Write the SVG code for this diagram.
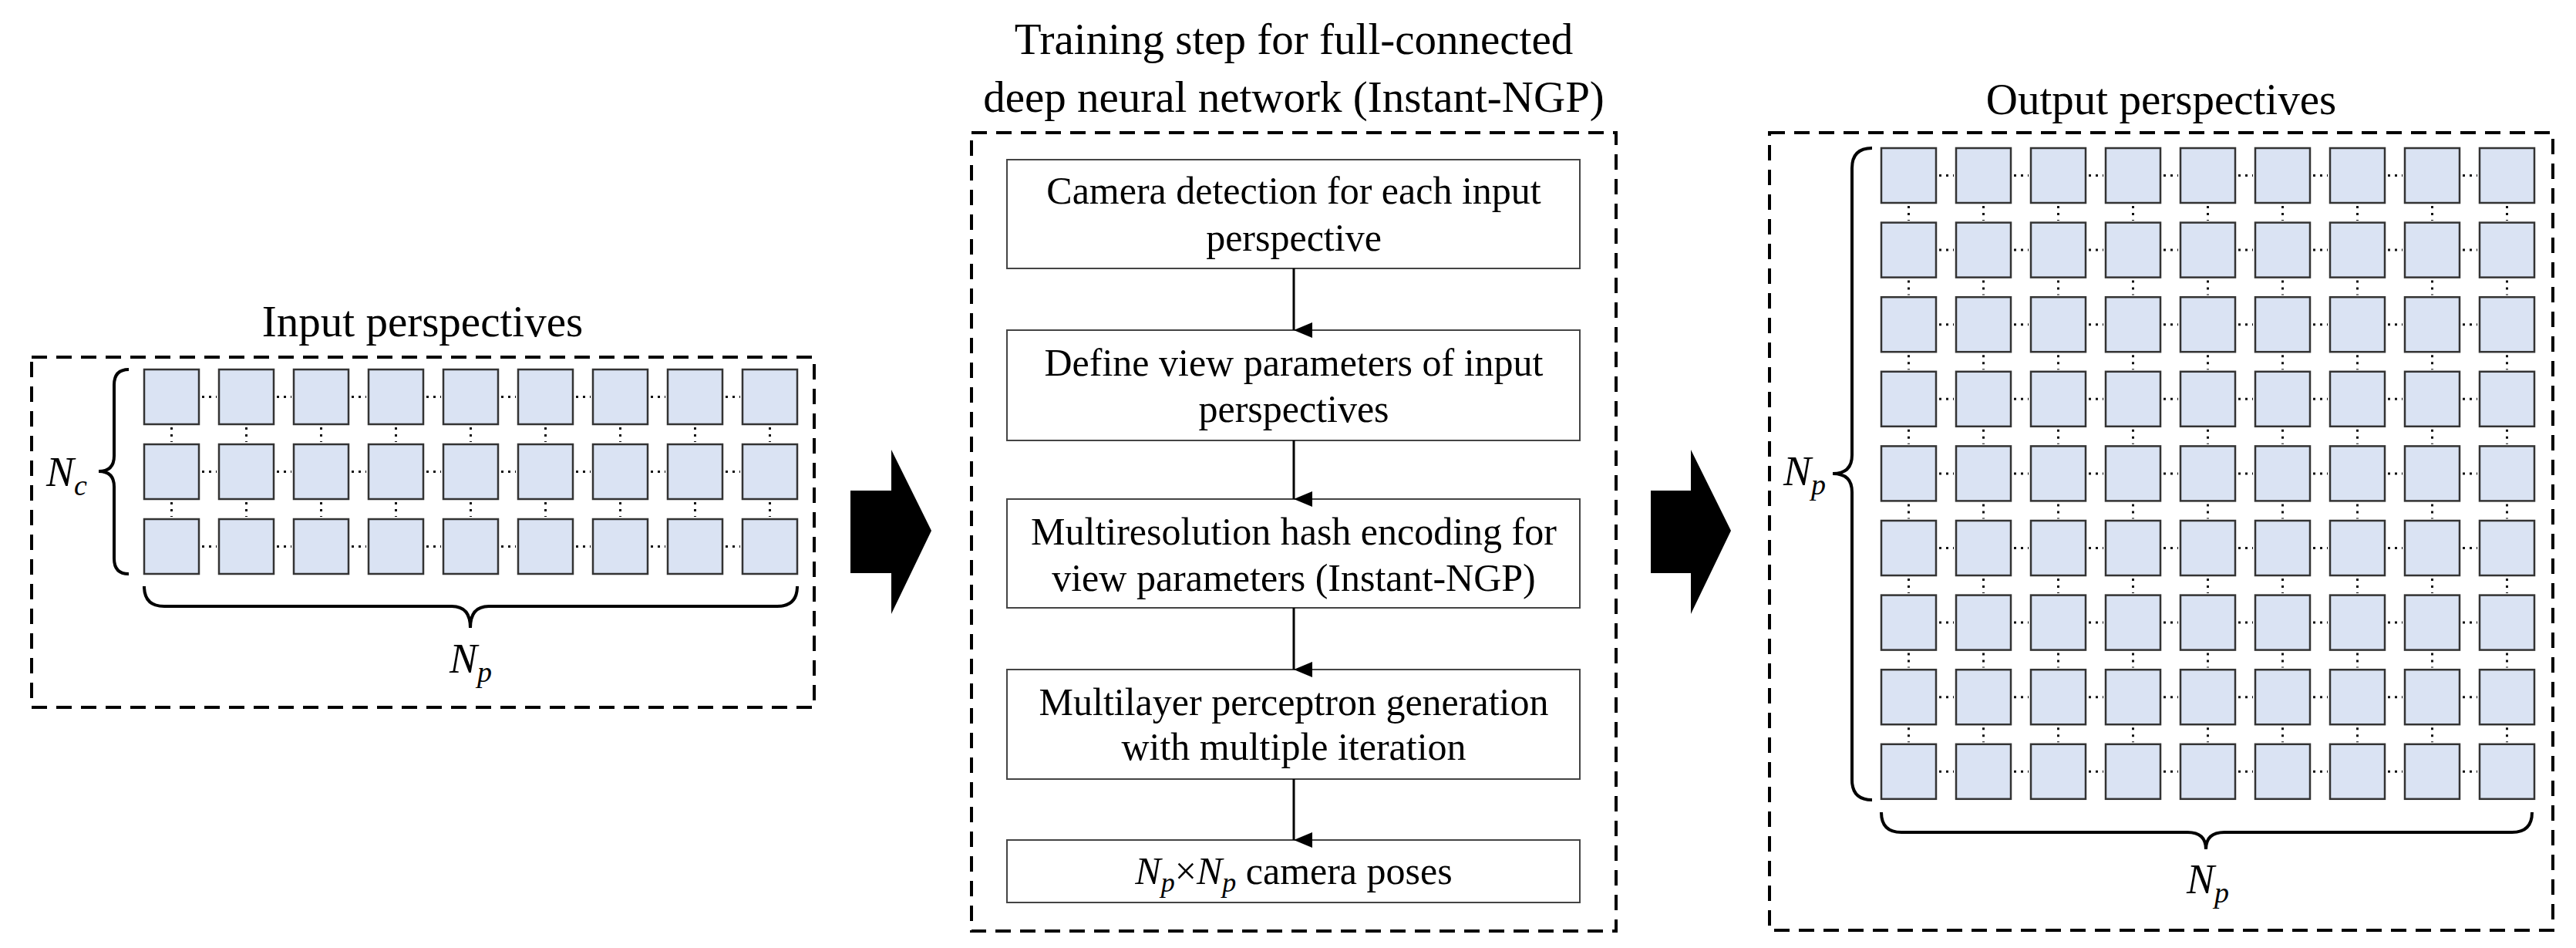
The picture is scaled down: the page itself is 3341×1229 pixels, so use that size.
<svg xmlns="http://www.w3.org/2000/svg" xmlns:xlink="http://www.w3.org/1999/xlink" width="3341" height="1229" viewBox="0 0 3341 1229">
<style>
text{font-family:"Liberation Serif","Times New Roman",serif;fill:#000}
.title{font-size:57px;text-anchor:middle}
.lbl{font-size:50px;text-anchor:middle}
.math{font-size:54px;font-style:italic}
.sub{font-size:38px;font-style:italic}
.dash{fill:none;stroke:#000;stroke-width:4;stroke-dasharray:20 12}
.tile{fill:#dae3f3;stroke:#333;stroke-width:2.5}
.dot{stroke:#111;stroke-width:3;stroke-dasharray:3 6;fill:none}
.step{fill:#fff;stroke:#444;stroke-width:2}
.brace{fill:none;stroke:#000;stroke-width:4}
.conn{stroke:#000;stroke-width:3;fill:none}
</style>
<defs>
<marker id="ah" markerWidth="20" markerHeight="24" refX="10" refY="24" orient="auto-start-reverse" markerUnits="userSpaceOnUse" viewBox="0 0 20 24">
<path d="M0,0 L20,0 L10,24 Z" fill="#000" transform="rotate(0)"/>
</marker>
<g id="row">
<rect class="tile" x="0" y="0" width="71" height="71"/>
<rect class="tile" x="97" y="0" width="71" height="71"/>
<rect class="tile" x="194" y="0" width="71" height="71"/>
<rect class="tile" x="291" y="0" width="71" height="71"/>
<rect class="tile" x="388" y="0" width="71" height="71"/>
<rect class="tile" x="485" y="0" width="71" height="71"/>
<rect class="tile" x="582" y="0" width="71" height="71"/>
<rect class="tile" x="679" y="0" width="71" height="71"/>
<rect class="tile" x="776" y="0" width="71" height="71"/>
<path class="dot" d="M75,35.5H94M172,35.5H191M269,35.5H288M366,35.5H385M463,35.5H482M560,35.5H579M657,35.5H676M754,35.5H773"/>
</g>
<path id="vd" class="dot" d="M35.5,75V94M132.5,75V94M229.5,75V94M326.5,75V94M423.5,75V94M520.5,75V94M617.5,75V94M714.5,75V94M811.5,75V94"/>
</defs>

<g id="input">
<text class="title" x="548" y="436">Input perspectives</text>
<rect class="dash" x="41" y="463" width="1015" height="454"/>
<g transform="translate(187,479)">
<use xlink:href="#row" y="0"/><use xlink:href="#row" y="97"/><use xlink:href="#row" y="194"/>
<use xlink:href="#vd" y="0"/><use xlink:href="#vd" y="97"/>
</g>
<path class="brace" d="M167,479 Q148,479 148,499 L148,591 Q148,611 128,611 Q148,611 148,631 L148,724 Q148,744 167,744"/>
<path class="brace" d="M187,760 Q187,786 213,786 L586,786 Q610,786 610,814 Q610,786 634,786 L1008,786 Q1034,786 1034,760"/>
<text x="60" y="630"><tspan class="math">N</tspan><tspan class="sub" dy="12">c</tspan></text>
<text x="583" y="872"><tspan class="math">N</tspan><tspan class="sub" dy="12">p</tspan></text>
</g>

<g id="arrow1"><polygon points="1103,636 1156,636 1156,583 1208,688 1156,796 1156,743 1103,743" fill="#000"/></g>
<g id="arrow2"><polygon points="2141,636 2193,636 2193,583 2245,688 2193,796 2193,743 2141,743" fill="#000"/></g>

<g id="training">
<text class="title" x="1678" y="70">Training step for full-connected</text>
<text class="title" x="1678" y="145">deep neural network (Instant-NGP)</text>
<rect class="dash" x="1260" y="172" width="836" height="1035"/>
</g>
<g id="step1"><rect class="step" x="1306" y="207" width="743" height="141"/>
<text class="lbl" x="1678" y="264">Camera detection for each input</text><text class="lbl" x="1678" y="325">perspective</text></g>
<g id="step2"><rect class="step" x="1306" y="428" width="743" height="143"/>
<text class="lbl" x="1678" y="487">Define view parameters of input</text><text class="lbl" x="1678" y="547">perspectives</text></g>
<g id="step3"><rect class="step" x="1306" y="647" width="743" height="141"/>
<text class="lbl" x="1678" y="706">Multiresolution hash encoding for</text><text class="lbl" x="1678" y="766">view parameters (Instant-NGP)</text></g>
<g id="step4"><rect class="step" x="1306" y="868" width="743" height="142"/>
<text class="lbl" x="1678" y="927">Multilayer perceptron generation</text><text class="lbl" x="1678" y="985">with multiple iteration</text></g>
<g id="step5"><rect class="step" x="1306" y="1089" width="743" height="81"/>
<text x="1678" y="1146" style="font-size:50px;text-anchor:middle"><tspan font-style="italic">N</tspan><tspan font-style="italic" font-size="36" dy="10">p</tspan><tspan dy="-10">×</tspan><tspan font-style="italic">N</tspan><tspan font-style="italic" font-size="36" dy="10">p</tspan><tspan dy="-10"> camera poses</tspan></text></g>

<g id="connectors">
<line class="conn" x1="1678" y1="348" x2="1678" y2="428" marker-end="url(#ah)"/>
<line class="conn" x1="1678" y1="571" x2="1678" y2="647" marker-end="url(#ah)"/>
<line class="conn" x1="1678" y1="788" x2="1678" y2="868" marker-end="url(#ah)"/>
<line class="conn" x1="1678" y1="1010" x2="1678" y2="1089" marker-end="url(#ah)"/>
</g>

<g id="output">
<text class="title" x="2803" y="148">Output perspectives</text>
<rect class="dash" x="2295" y="172" width="1016" height="1034"/>
<g transform="translate(2440,192)">
<use xlink:href="#row" y="0"/><use xlink:href="#row" y="96.6"/><use xlink:href="#row" y="193.2"/>
<use xlink:href="#row" y="289.8"/><use xlink:href="#row" y="386.4"/><use xlink:href="#row" y="483"/>
<use xlink:href="#row" y="579.6"/><use xlink:href="#row" y="676.2"/><use xlink:href="#row" y="772.8"/>
<use xlink:href="#vd" y="0"/><use xlink:href="#vd" y="96.6"/><use xlink:href="#vd" y="193.2"/><use xlink:href="#vd" y="289.8"/>
<use xlink:href="#vd" y="386.4"/><use xlink:href="#vd" y="483"/><use xlink:href="#vd" y="579.6"/><use xlink:href="#vd" y="676.2"/>
</g>
<path class="brace" d="M2428,192 Q2402,192 2402,218 L2402,590 Q2402,614 2377,614 Q2402,614 2402,638 L2402,1011 Q2402,1037 2428,1037"/>
<path class="brace" d="M2440,1053 Q2440,1079 2466,1079 L2837,1079 Q2861,1079 2861,1101 Q2861,1079 2885,1079 L3258,1079 Q3284,1079 3284,1053"/>
<text x="2313" y="629"><tspan class="math">N</tspan><tspan class="sub" dy="12">p</tspan></text>
<text x="2836" y="1158"><tspan class="math">N</tspan><tspan class="sub" dy="12">p</tspan></text>
</g>
</svg>
